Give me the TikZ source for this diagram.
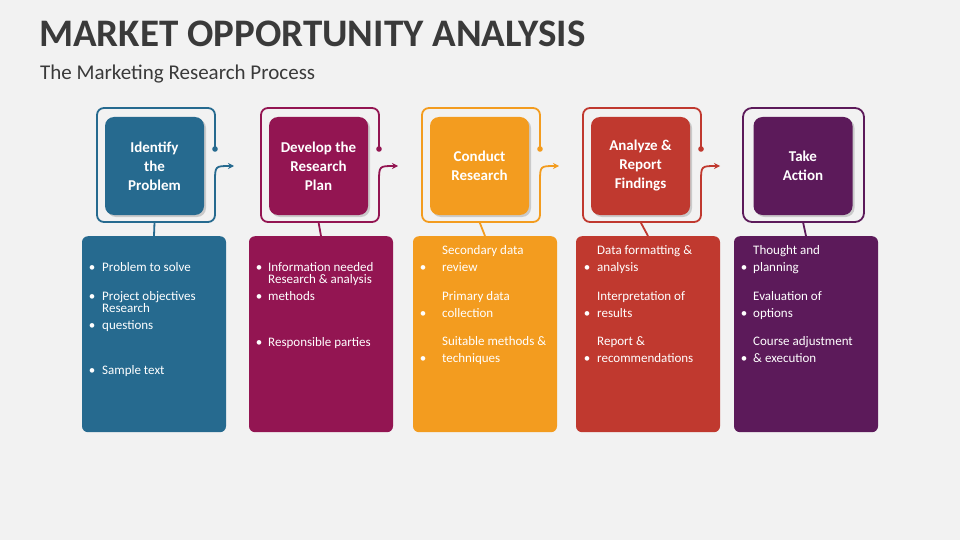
\documentclass[tikz,border=0pt]{standalone}
\usepackage{fontspec}
\setmainfont{Carlito}
\usetikzlibrary{arrows.meta,shadows}
\definecolor{cA}{HTML}{266A8F}
\definecolor{cB}{HTML}{931552}
\definecolor{cC}{HTML}{F39C1F}
\definecolor{cD}{HTML}{C0392F}
\definecolor{cE}{HTML}{5C1A5A}
\definecolor{ttl}{HTML}{3A3A3A}
\tikzset{
 head/.style={rounded corners=9pt,minimum width=99pt,minimum height=98pt,text=white,font=\bfseries\fontsize{15}{19}\selectfont,align=center,drop shadow={shadow xshift=2pt,shadow yshift=-2pt,opacity=0.35}},
 body/.style={rounded corners=6pt,minimum width=144pt,minimum height=196pt},
 itm/.style={anchor=base west,text=white,font=\fontsize{13}{17}\selectfont,align=left,inner sep=0pt},
 bul/.style={anchor=base,text=white,font=\fontsize{13}{17}\selectfont,inner sep=0pt},
 outl/.style={line width=1.8pt,rounded corners=7pt},
}
\begin{document}
\begin{tikzpicture}[x=1pt,y=-1pt]
\useasboundingbox[fill={rgb,255:red,242;green,242;blue,242}] (0,0) rectangle (960,540);
\node[anchor=base west,text=ttl,font=\bfseries\fontsize{39}{40}\selectfont,inner sep=0pt] (title) at (39,47) {MARKET OPPORTUNITY ANALYSIS};
\node[anchor=base west,text=ttl,font=\fontsize{21}{24}\selectfont,inner sep=0pt] (sub) at (40,80) {The Marketing Research Process};
% groups
\foreach \i/\dx/\col/\txt/\bx in {1/0/cA/{Identify\\the\\Problem}/154, 2/164/cB/{Develop the\\Research\\Plan}/321, 3/325/cC/{Conduct\\Research}/485, 4/486/cD/{Analyze \&\\Report\\Findings}/648}{
 \draw[\col,outl] (215+\dx,149) -- (215+\dx,108) -- (97+\dx,108) -- (97+\dx,222) -- (215+\dx,222) -- (215+\dx,180);
 \fill[\col] (215+\dx,149) circle (2.8pt);
 \coordinate (s\i) at (215+\dx,182);
 \coordinate (e\i) at (234+\dx,166);
 \draw[\col,line width=1.8pt,-{Stealth[length=6pt,width=6pt]}] (s\i) .. controls (215+\dx,166) .. (e\i);
 \node[head,fill=\col] (h\i) at (154.5+\dx,166) {\txt};
 \node[body,fill=\col,anchor=north] (b\i) at (\bx,236) {};
 \draw[\col,line width=1.8pt] (154.5+\dx,222) -- (b\i.north);
}
\draw[cE,line width=1.8pt,rounded corners=9pt] (743,108) rectangle (864,222);
\node[head,fill=cE] (h5) at (803,166) {Take\\Action};
\node[body,fill=cE,anchor=north] (b5) at (806,236) {};
\draw[cE,line width=1.8pt] (803,222) -- (b5.north);
% lists
\foreach \bxx/\tx/\y/\t in {92/102/271/{Problem to solve},92/102/300/{Project objectives},92/102/329/{Research\\questions},92/102/374/{Sample text},
 259/268/271/{Information needed},259/268/300/{Research \& analysis\\methods},259/268/346/{Responsible parties},
 423/442/271/{Secondary data\\review},423/442/317/{Primary data\\collection},423/442/362/{Suitable methods \&\\techniques},
 587/597/271/{Data formatting \&\\analysis},587/597/317/{Interpretation of\\results},587/597/362/{Report \&\\recommendations},
 744/753/271/{Thought and\\planning},744/753/317/{Evaluation of\\options},744/753/362/{Course adjustment\\\& execution}}{
 \node[bul] at (\bxx,\y) {•};
 \node[itm] at (\tx,\y) {\t};
}
\end{tikzpicture}
\end{document}
